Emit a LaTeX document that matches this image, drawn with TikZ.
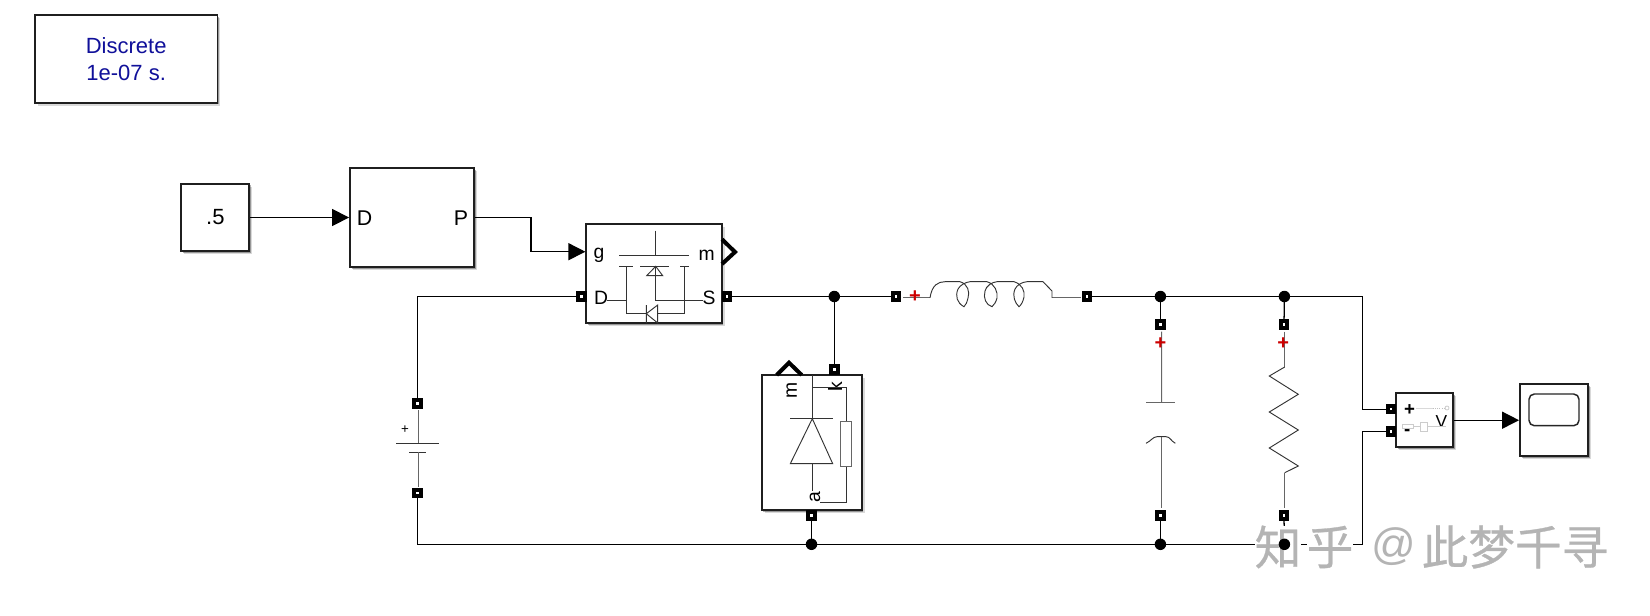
\documentclass[tikz,border=0pt]{standalone}
\usepackage{fontspec}
\setmainfont{Liberation Sans}
\newfontfamily\cjk[FakeBold=0.6]{Noto Sans CJK SC}
\usetikzlibrary{arrows.meta,shadows}

\definecolor{stepblue}{HTML}{10109A}
\definecolor{markgray}{HTML}{B4B4B4}
\definecolor{symgray}{HTML}{666666}

\tikzset{
  boxsize/.style 2 args={minimum width=#1*0.75pt, minimum height=#2*0.75pt},
  blk/.style={draw=black!88, fill=white, line width=1.4pt, inner sep=0pt,
    drop shadow={shadow xshift=2.2pt, shadow yshift=-2.2pt, opacity=0.15, fill=black},
    drop shadow={shadow xshift=1.2pt, shadow yshift=-1.2pt, opacity=0.3, fill=black}},
  port/.style={draw=black, fill=white, line width=3pt, minimum size=4.9pt, inner sep=0pt},
  dot/.style={circle, fill=black, minimum size=8.6pt, inner sep=0pt},
  wire/.style={line width=0.95pt},
  sig/.style={wire, -{Triangle[length=12.75pt, width=12.8pt]}},
  sym/.style={line width=0.7pt, black!80},
  symlight/.style={line width=0.7pt, symgray},
  chev/.style={line width=3pt, black, miter limit=4},
  lab/.style={font=\fontsize{14.5}{16}\selectfont, inner sep=0pt},
  plus/.style={font=\fontsize{15}{16}\selectfont\bfseries, text=red!80!black, inner sep=0pt},
  wmark/.style={font=\cjk\fontsize{35}{38}\selectfont, text=markgray, fill=white, inner sep=0pt},
}

\begin{document}
\begin{tikzpicture}[x=0.75pt, y=-0.75pt]

  \useasboundingbox (0,0) rectangle (1650,615);

  \newcommand\WT{296.5}
  \newcommand\WB{544.3}

  %% blocks
  \node[blk, boxsize={182.5}{87.7}, align=center, text=stepblue,
    font=\fontsize{16.5}{20}\selectfont] (powergui) at (126.2,58.8) {Discrete\\1e-07 s.};
  \node[blk, boxsize={68}{67.6}, font=\fontsize{16.5}{18}\selectfont] (duty) at (215.4,217.5) {.5};
  \node[blk, boxsize={124.4}{99.3}] (pwm) at (412.2,217.7) {};
  \node[blk, boxsize={135.4}{99}] (mosfet) at (654,273.8) {};
  \node[blk, boxsize={100}{135.3}] (diode) at (811.7,442.6) {};
  \node[blk, boxsize={56.7}{54.3}] (vmeas) at (1424.6,420.2) {};
  \node[blk, boxsize={68}{72.3}] (scope) at (1554,420.2) {};

  %% block texts
  \node[lab, font=\fontsize{16}{16}\selectfont] (pwmD) at (364.5,218.3) {D};
  \node[lab, font=\fontsize{16}{16}\selectfont] (pwmP) at (461,218.3) {P};
  \node[lab] (mosG) at (599,255.5) {g};
  \node[lab] (mosM) at (706.7,255) {m};
  \node[lab] (mosD) at (601,298) {D};
  \node[lab] (mosS) at (709,298) {S};
  \node[lab, rotate=90] (diodeM) at (791.7,390.7) {m};
  \node[lab, rotate=90] (diodeK) at (835,386.7) {k};
  \node[lab, rotate=90] (diodeA) at (815,497.3) {a};
  \node[lab, font=\fontsize{13}{14}\selectfont] (vmeasV) at (1441.3,421.5) {V};
  \node[lab, font=\fontsize{14}{14}\selectfont\bfseries] (vmeasP) at (1409.5,410) {+};
  \node[lab, font=\fontsize{14}{14}\selectfont\bfseries] (vmeasN) at (1407.3,433) {-};

  %% ports
  \node[port] (mosPD) at (581.3,\WT) {};
  \node[port] (mosPS) at (726.8,\WT) {};
  \node[port] (diodePK) at (834.3,369.7) {};
  \node[port] (diodePA) at (811.5,515.7) {};
  \node[port] (indA) at (896.2,\WT) {};
  \node[port] (indB) at (1087,\WT) {};
  \node[port] (capA) at (1160.4,324.7) {};
  \node[port] (capB) at (1160.4,515.7) {};
  \node[port] (resA) at (1284,324.7) {};
  \node[port] (resB) at (1284,515.7) {};
  \node[port] (batA) at (417.7,403.7) {};
  \node[port] (batB) at (417.7,493) {};
  \node[port] (vmeasA) at (1391.2,409.2) {};
  \node[port] (vmeasB) at (1391.2,431.5) {};

  %% junctions
  \coordinate (j1) at (834.3,\WT);
  \coordinate (j2) at (1160.4,\WT);
  \coordinate (j3) at (1284.4,\WT);
  \coordinate (j4) at (811.5,\WB);
  \coordinate (j5) at (1160.4,\WB);
  \coordinate (j6) at (1284.4,\WB);
  \coordinate (cornerT) at (1362.3,\WT);
  \coordinate (cornerB) at (1362.3,\WB);

  %% signal lines
  \draw[sig] (duty.east) -- (pwm.west |- duty.east);
  \draw[wire] (pwm.east) -- (531,217.7) -- (531,251.7);
  \draw[sig] (531,251.7) -- (mosfet.west |- 0,251.7);
  \draw[sig] (vmeas.east) -- (scope.west);

  %% power lines
  \draw[wire] (mosPS) -- (indA);
  \draw[wire] (j1) -- (diodePK);
  \draw[wire] (indB) -- (cornerT) -- (vmeasA -| cornerT) -- (vmeasA);
  \draw[wire] (j2) -- (capA);
  \draw[wire] (j3) -- (resA);
  \draw[wire] (batA) |- (mosPD);
  \draw[wire] (batB) |- (cornerB) -- (vmeasB -| cornerB) -- (vmeasB);
  \draw[wire] (diodePA) -- (j4);
  \draw[wire] (capB) -- (j5);
  \draw[wire] (resB) -- (j6);

  %% watermark (wipes the wire behind it)
  \node[wmark] (wmZhi) at (1278,547) {知};
  \node[wmark] (wmHu) at (1330,547) {乎};
  \node[font=\fontsize{33}{36}\selectfont, text=markgray, inner sep=0pt] (wmAt) at (1394,547) {@};
  \node[wmark, fill=none] (wmName) at (1515,547) {此梦千寻};

  \foreach \j in {j1,j2,j3,j4,j5,j6}
    \node[dot] at (\j) {};

  %% mosfet symbol
  \draw[sym] (655.7,230.7) -- (655.7,255) (619,255) -- (689,255);
  \draw[sym] (619,266.3) -- (632.7,266.3) (640,266.3) -- (668.7,266.3) (680,266.3) -- (689,266.3);
  \draw[sym] (626.3,266.3) -- (626.3,313.7) -- (646.3,313.7);
  \draw[sym] (684.7,266.3) -- (684.7,313.7) -- (657.7,313.7);
  \draw[sym] (646.3,305) -- (646.3,323.3) (646.3,313.7) -- (657.7,305) -- (657.7,323) -- cycle;
  \draw[sym] (607,300) -- (626.3,300);
  \draw[sym] (655.7,266.3) -- (655.7,300) -- (702.7,300);
  \draw[sym] (655.7,266.3) -- (646.7,275.7) -- (662.7,275.7) -- cycle;
  \draw[chev] (722,239.3) -- (735,252) -- (722,264);

  %% diode symbol
  \draw[sym] (812.3,375) -- (812.3,418.7) (790.3,418.7) -- (832.7,418.7);
  \draw[sym] (812.3,418.7) -- (790.3,463.7) -- (832.7,463.7) -- cycle;
  \draw[sym] (812.3,463.7) -- (812.3,491);
  \draw[sym] (812.3,387.3) -- (846.3,387.3) -- (846.3,421);
  \draw[sym] (846.3,466) -- (846.3,502) -- (820,502);
  \draw[symlight] (840.3,421) rectangle (851,466);
  \draw[chev] (776.7,375) -- (789,362.7) -- (801.7,375);

  %% inductor
  \draw[symlight] (indA) ++(7,1.3) -- (930,297.8);
  \draw[symlight] (1052,297.8) -- (1080.7,297.8);
  \node[plus] (indPlus) at (915,297) {+};
  \draw[sym] (930,297.8) .. controls (932,285) and (938,281.7) .. (945,281.7) -- (960,281.7)
    .. controls (968,284) and (970,292) .. (968,298) .. controls (967,302) and (966,305) .. (964,306.7)
    .. controls (957,303) and (955,296) .. (958,289) .. controls (960,285) and (966,282) .. (970,281.7)
    -- (987,281.7) .. controls (995,284) and (998,292) .. (997,298) .. controls (996,302) and (994,305) .. (992,306.7)
    .. controls (986,305) and (983,298) .. (985,291) .. controls (986,286) and (992,282) .. (997,281.7)
    -- (1014,281.7) .. controls (1022,284) and (1025,291) .. (1024,297) .. controls (1023,302) and (1021,305) .. (1019,306.7)
    .. controls (1015,303) and (1012,296) .. (1015,289) .. controls (1017,285) and (1022,282) .. (1027,281.7)
    -- (1043,281.7) -- (1052,291) -- (1052,297.8);

  %% capacitor
  \draw[symlight] (capA) ++(1.3,7) -- (1161.7,402.7);
  \draw[symlight] (1146,402.7) -- (1175.3,402.7);
  \node[plus] (capPlus) at (1160.4,343.3) {+};
  \draw[sym] (1146,443.3) .. controls (1151,441) and (1153,436.7) .. (1157,436.7) -- (1166,436.7)
    .. controls (1170,436.7) and (1171,441) .. (1175.3,443.3);
  \draw[symlight] (1161.7,436.7) -- (1161.7,508.3);

  %% resistor
  \draw[symlight] (1284.7,331.7) -- (1284.7,367);
  \node[plus] (resPlus) at (1283.3,343.3) {+};
  \draw[sym] (1284.7,367) -- (1269.3,376) -- (1298.3,394.3) -- (1269.3,412) -- (1298.3,430)
    -- (1269.3,448) -- (1298.3,466) -- (1284.7,472.7);
  \draw[symlight] (1284.7,472.7) -- (1284.7,508.3);

  %% battery
  \draw[symlight] (418.3,410) -- (418.3,443.7);
  \draw[sym] (396,443.7) -- (439,443.7);
  \draw[sym] (409.3,452.3) -- (426,452.3);
  \draw[symlight] (418.3,452.3) -- (418.3,486.7);
  \node[lab, font=\fontsize{10}{12}\selectfont] (batPlus) at (405,430) {+};

  %% faint part of the voltage block
  \draw[black!15, line width=0.6pt] (1416,408) -- (1433,408);
  \draw[black!25, line width=0.6pt, densely dotted] (1433,408) -- (1444,408);
  \draw[black!20, line width=0.6pt] (1447,408) circle (2);
  \draw[black!20, line width=0.6pt] (1402,424.5) rectangle (1413,428) (1413,426.5) -- (1420,426.5)
    (1420,422.5) rectangle (1427.7,431) (1427.7,426.5) -- (1446,426.5);

  %% scope screen
  \draw[line width=1.1pt, black!85, rounded corners=4pt] (1529,394) rectangle (1579,425.7);

\end{tikzpicture}
\end{document}
